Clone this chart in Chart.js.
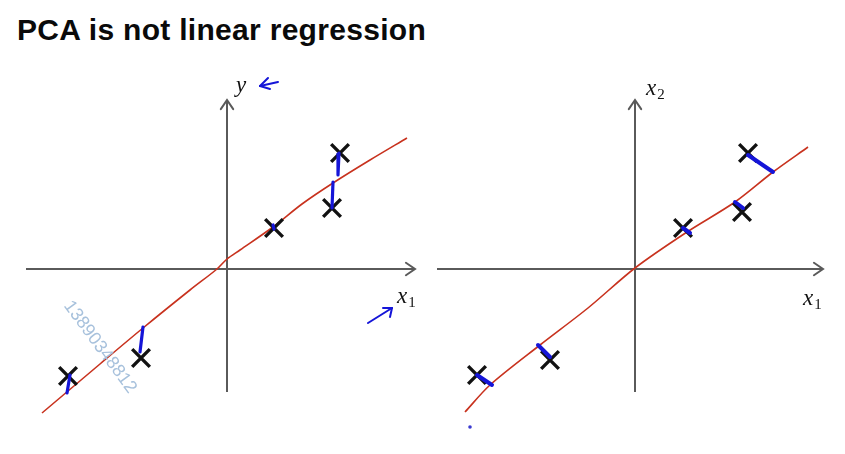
<!DOCTYPE html>
<html><head><meta charset="utf-8">
<script src="https://cdn.jsdelivr.net/npm/chart.js@4"></script>
<style>
html,body{margin:0;padding:0;background:#fff;width:845px;height:454px;overflow:hidden;}
#title{position:absolute;left:17px;top:13px;font:bold 30px "Liberation Sans",Arial,sans-serif;letter-spacing:0.3px;color:#0a0a0a;white-space:nowrap;}
canvas{position:absolute;top:55px;}
#c1{left:0;}
#c2{left:430px;}
</style></head><body>
<div id="title">PCA is not linear regression</div>
<canvas id="c1" width="430" height="399"></canvas>
<canvas id="c2" width="415" height="399"></canvas>
<script>
// ---- data (units: 1 = 20 px of the slide) ----
const leftPtsX = [-7.95, -4.3, 2.35, 5.25, 5.65];
const leftPtsY = [-5.35, -4.45, 2.05, 3.05, 5.8];
const leftCurveX = [-9.25, -6.35, -4.2, -1.85, -0.5, 0, 0.65, 2.3, 3.75, 5.3, 7.15, 9.0];
const leftCurveY = [-7.2, -4.75, -2.95, -1.05, 0, 0.5, 0.95, 2.1, 3.25, 4.3, 5.45, 6.55];
// vertical residuals: [x1,y1,x2,y2]
const leftSegs = [[-7.85,-5.3,-8.0,-6.2],[-4.2,-2.9,-4.35,-4.15],[2.3,2.2,2.35,2.0],[5.25,3.05,5.3,4.35],[5.6,5.8,5.55,4.7]];
const leftNotes = [[2.55,9.35,1.65,9.15],[1.65,9.15,2.05,9.55],[1.65,9.15,2.15,9.0],[7.05,-2.7,8.25,-1.95],[8.25,-1.95,7.8,-1.95],[8.25,-1.95,8.15,-2.4]];
const leftAxisH = [-10.05, 9.4];
const leftAxisV = [-6.15, 8.45];

const rightPtsX = [-7.9, -4.25, 2.4, 5.35, 5.65];
const rightPtsY = [-5.3, -4.55, 2.05, 2.85, 5.8];
const rightCurveX = [-8.5, -7.25, -4.75, -2.35, 0, 2.6, 5.0, 6.9, 8.65];
const rightCurveY = [-7.15, -5.8, -3.8, -1.95, 0.05, 1.85, 3.35, 4.85, 6.1];
// orthogonal projections
const rightSegs = [[-7.9,-5.3,-7.15,-5.8],[-4.85,-3.8,-4.25,-4.4],[2.4,2.05,2.75,1.8],[5.0,3.35,5.4,3.05],[5.65,5.7,6.9,4.85]];
const rightDot = [[-8.25,-7.9]];
const rightAxisH = [-9.9, 9.4];
const rightAxisV = [-6.15, 8.45];

const watermark = "13890348812";

function zip(xs, ys){ return xs.map((x,i)=>({x:x,y:ys[i]})); }
const AXIS = '#5a5a5a', RED = '#c8321e', BLUE = '#1515d8';

function build(ptsX, ptsY, cX, cY, segs, aH, aV, extra, segW){
  const ds = [];
  ds.push({data:[{x:aH[0],y:0},{x:aH[1],y:0}], showLine:true, borderColor:AXIS, borderWidth:2, pointRadius:0, axisLine:true, order:9});
  ds.push({data:[{x:0,y:aV[0]},{x:0,y:aV[1]}], showLine:true, borderColor:AXIS, borderWidth:2, pointRadius:0, axisLine:true, order:9});
  ds.push({data:zip(cX,cY), showLine:true, borderColor:RED, borderWidth:1.6, pointRadius:0, tension:0.3, order:8});
  ds.push({data:zip(ptsX,ptsY), showLine:false, pointStyle:'crossRot', pointRadius:12.5, borderWidth:3.4, borderColor:'#111', backgroundColor:'#111', order:3});
  segs.forEach(s=>ds.push({data:[{x:s[0],y:s[1]},{x:s[2],y:s[3]}], showLine:true, borderColor:BLUE, borderWidth:segW, pointRadius:0, borderCapStyle:'round', order:2}));
  (extra||[]).forEach(d=>ds.push(d));
  return ds;
}

const arrowPlugin = {
  id:'arrows',
  afterDatasetsDraw(chart, args, opts){
    const ctx = chart.ctx, xs = chart.scales.x, ys = chart.scales.y;
    ctx.save();
    ctx.strokeStyle = AXIS; ctx.lineWidth = 2; ctx.lineCap='round';
    chart.data.datasets.forEach(d=>{
      if(!d.axisLine) return;
      const a = d.data[0], b = d.data[d.data.length-1];
      const ax = xs.getPixelForValue(a.x), ay = ys.getPixelForValue(a.y);
      const bx = xs.getPixelForValue(b.x), by = ys.getPixelForValue(b.y);
      const ang = Math.atan2(by-ay, bx-ax), L = 11, spread = 0.6;
      ctx.beginPath();
      ctx.moveTo(bx - L*Math.cos(ang-spread), by - L*Math.sin(ang-spread));
      ctx.lineTo(bx, by);
      ctx.lineTo(bx - L*Math.cos(ang+spread), by - L*Math.sin(ang+spread));
      ctx.stroke();
    });
    // axis labels
    (opts.labels||[]).forEach(l=>{
      const tx = xs.getPixelForValue(l.ax) + l.dx, ty = ys.getPixelForValue(l.ay) + l.dy;
      ctx.fillStyle = '#111';
      ctx.textBaseline = 'alphabetic'; ctx.textAlign='left';
      ctx.font = 'italic 23px "Liberation Serif","DejaVu Serif",serif';
      ctx.fillText(l.t, tx, ty);
      if(l.sub){
        const w = ctx.measureText(l.t).width;
        ctx.font = '15px "Liberation Serif","DejaVu Serif",serif';
        ctx.fillText(l.sub, tx + w + 1, ty + 4);
      }
    });
    if(opts.watermark){
      const w = opts.watermark;
      ctx.translate(w.x, w.y);
      ctx.rotate(w.angle*Math.PI/180);
      ctx.font = '18px "Liberation Sans",Arial,sans-serif';
      ctx.fillStyle = '#a7c1dc';
      ctx.textAlign='center'; ctx.textBaseline='middle';
      ctx.fillText(w.text, 0, 0);
    }
    ctx.restore();
  }
};

function opts(xmin,xmax,ymin,ymax,labels,wm){
  return {
    responsive:false, animation:false, devicePixelRatio:1,
    layout:{padding:0, autoPadding:false},
    plugins:{legend:{display:false}, tooltip:{enabled:false}, title:{display:false},
      arrows:{labels:labels, watermark:wm}},
    scales:{
      x:{type:'linear', min:xmin, max:xmax, display:false},
      y:{type:'linear', min:ymin, max:ymax, display:false}
    }
  };
}

const leftExtra = leftNotes.map(s=>({data:[{x:s[0],y:s[1]},{x:s[2],y:s[3]}], showLine:true, borderColor:BLUE, borderWidth:2, pointRadius:0, borderCapStyle:'round', order:1}));
new Chart(document.getElementById('c1'), {
  type:'scatter',
  data:{datasets: build(leftPtsX,leftPtsY,leftCurveX,leftCurveY,leftSegs,leftAxisH,leftAxisV,leftExtra,3.2)},
  options: opts(-11.35, 10.15, -9.25, 10.7,
    [{t:'y', ax:0, ay:leftAxisV[1], dx:9, dy:-8},
     {t:'x', sub:'1', ax:leftAxisH[1], ay:0, dx:-18, dy:34}],
    {text:watermark, x:100, y:292, angle:53.5}),
  plugins:[arrowPlugin]
});

const rightExtra = [{data:zip(rightDot.map(p=>p[0]), rightDot.map(p=>p[1])), showLine:false, pointRadius:1.8, backgroundColor:'#3a3ad0', borderWidth:0, order:1}];
new Chart(document.getElementById('c2'), {
  type:'scatter',
  data:{datasets: build(rightPtsX,rightPtsY,rightCurveX,rightCurveY,rightSegs,rightAxisH,rightAxisV,rightExtra,4)},
  options: opts(-10.25, 10.5, -9.25, 10.7,
    [{t:'x', sub:'2', ax:0, ay:rightAxisV[1], dx:11, dy:-5},
     {t:'x', sub:'1', ax:rightAxisH[1], ay:0, dx:-20, dy:36}], null),
  plugins:[arrowPlugin]
});
</script>
</body></html>
